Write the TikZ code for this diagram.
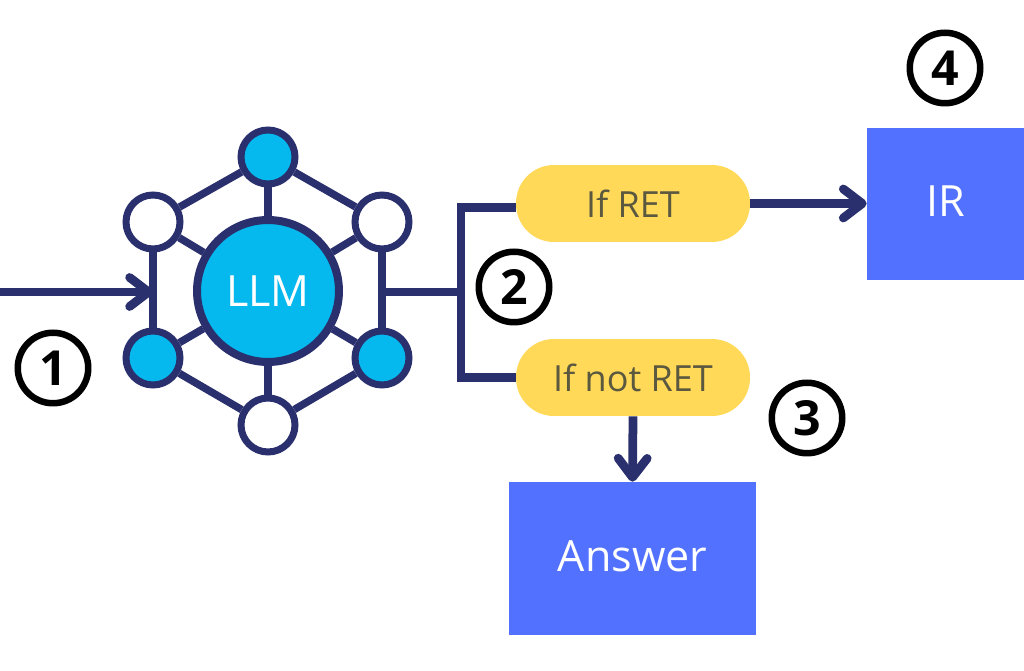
\documentclass[tikz,border=0pt]{standalone}
\usepackage{fontspec}
\setmainfont{Open Sans}
\usetikzlibrary{arrows.meta}
\definecolor{navy}{HTML}{2A2F6E}
\definecolor{sky}{HTML}{05B8EE}
\definecolor{sun}{HTML}{FFD957}
\definecolor{royal}{HTML}{5271FF}
\definecolor{olive}{HTML}{5B5840}
\tikzset{
	hub/.style={circle,draw=navy,line width=0.16cm,fill=sky,minimum size=2.84cm,inner sep=0pt,text=white,font=\fontsize{24.5}{30}\selectfont},
	leaf/.style={circle,draw=navy,line width=0.14cm,fill=white,minimum size=1.08cm,inner sep=0pt},
	leafon/.style={leaf,fill=sky},
	link/.style={draw=navy,line width=0.15cm},
	wire/.style={draw=navy,line width=0.175cm},
	flow/.style={wire,-{Straight Barb[length=0.38cm,width=0.58cm,round]}},
	pill/.style={rectangle,rounded corners=0.76cm,fill=sun,minimum width=4.68cm,minimum height=1.54cm,inner sep=0pt,text=olive,font=\fontsize{20.5}{26}\selectfont},
	block/.style={rectangle,fill=royal,inner sep=0pt,text=white,font=\fontsize{24.5}{30}\selectfont},
	badge/.style={circle,draw=black,line width=0.13cm,fill=white,minimum size=1.41cm,inner sep=0pt,font=\fontsize{27.5}{32}\selectfont\bfseries}
}
\begin{document}
\begin{tikzpicture}[x=0.02cm,y=-0.02cm]
	\useasboundingbox (0,0) rectangle (1024,671);
	
	% draw network nodes
	\node[hub] (llm) at (268,291) {LLM};
	\node[leafon] (top) at (268,157) {};
	\node[leaf] (upleft) at (153,222) {};
	\node[leaf] (upright) at (382,222) {};
	\node[leafon] (lowleft) at (153,358) {};
	\node[leafon] (lowright) at (382,358) {};
	\node[leaf] (bottom) at (268,425) {};
	
	% draw hexagon and spokes
	\foreach \a/\b in {top/upright,upright/lowright,lowright/bottom,bottom/lowleft,lowleft/upleft,upleft/top}
	\draw[link] (\a) -- (\b);
	\foreach \a in {top,upleft,upright,lowleft,lowright,bottom}
	\draw[link] (llm) -- (\a);
	
	% draw pills and blocks
	\node[pill] (ifret) at (633,203.5) {If RET};
	\node[pill] (ifnot) at (633,377.5) {If not RET};
	\node[block,minimum width=3.14cm,minimum height=3.04cm,text depth=0.1cm] (ir) at (945.5,204) {IR};
	\node[block,minimum width=4.94cm,minimum height=3.06cm,text depth=0.1cm] (answer) at (632.5,558.5) {Answer};
	
	% draw connectors
	\coordinate (start) at (0,292);
	\coordinate (hexleft) at (153,292);
	\coordinate (hexright) at (382,292);
	\coordinate (bus) at (461,292);
	\coordinate (bustop) at (461,207.5);
	\coordinate (busbot) at (461,377.5);
	\draw[flow] (start) -- (hexleft);
	\draw[wire] (hexright) -- (bus);
	\draw[wire,line join=miter] (ifret.west |- bustop) -- (bustop) -- (busbot) -- (ifnot.west |- busbot);
	\draw[flow] (ifret.east) -- (ir.west |- ifret.east);
	\draw[flow] (ifnot.south) -- (answer.north);
	
	% draw numbers
	\node[badge] (one) at (53,368) {1};
	\node[badge] (two) at (514,287) {2};
	\node[badge] (three) at (807,418) {3};
	\node[badge] (four) at (945,68) {4};
\end{tikzpicture}
\end{document}
